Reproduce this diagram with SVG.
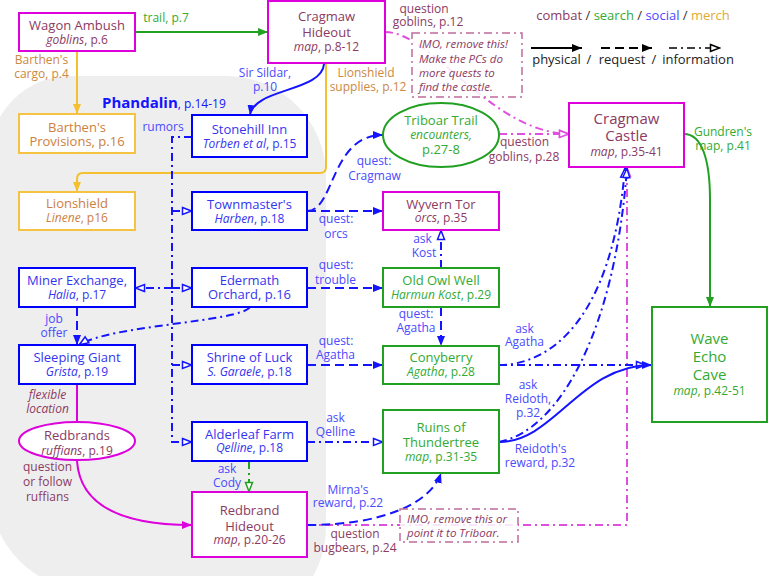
<svg xmlns="http://www.w3.org/2000/svg" width="768" height="576" viewBox="0 0 768 576">
<defs>
<style>
text{font-family:"Open Sans","Liberation Sans",sans-serif;text-anchor:middle}
.t1{font-size:13px}
.t2{font-size:12px}
.big{font-size:15px}
.l{font-size:12px}
.i{font-style:italic}
.box{fill:#fff;stroke-width:2}
.cb{stroke:#dd00dd}.ctx{fill:#8b3a62}
.se{stroke:#22a022}.stx{fill:#33aa33}
.so{stroke:#0000ff}.sotx{fill:#3535f0}
.me{stroke:#f5c242}.mtx{fill:#cc8040}
.lso{fill:#4a4aff}.lcb{fill:#8b3a62}.lse{fill:#33aa33}.lme{fill:#cc8844}
.e{fill:none;stroke-width:2}
.blue{stroke:#1414ff}.green{stroke:#22a022}.orange{stroke:#f5c030}.mag{stroke:#dd00dd}.pink{stroke:#e050e0}.blk{stroke:#000}
.d{stroke-dasharray:9 5}
.dd{stroke-dasharray:8 4 2 4}
.note{fill:#fff;fill-opacity:0.85;stroke:#c06a9a;stroke-width:1.5;stroke-dasharray:8 4 2 4}
.nt{font-size:11.5px;font-style:italic;fill:#8b3a62;text-anchor:start}
</style>
<marker id="ab" viewBox="0 0 10 8" refX="10" refY="4" markerWidth="10" markerHeight="8" markerUnits="userSpaceOnUse" orient="auto"><path d="M0,0L10,4L0,8z" fill="#1414ff"/></marker>
<marker id="ob" viewBox="-1 -1 12 10" refX="10" refY="4" markerWidth="12" markerHeight="10" markerUnits="userSpaceOnUse" orient="auto"><path d="M0.5,0.5L9.5,4L0.5,7.5z" fill="#fff" stroke="#1414ff" stroke-width="1.5"/></marker>
<marker id="ag" viewBox="0 0 10 8" refX="10" refY="4" markerWidth="10" markerHeight="8" markerUnits="userSpaceOnUse" orient="auto"><path d="M0,0L10,4L0,8z" fill="#22a022"/></marker>
<marker id="og" viewBox="-1 -1 12 10" refX="10" refY="4" markerWidth="12" markerHeight="10" markerUnits="userSpaceOnUse" orient="auto"><path d="M0.5,0.5L9.5,4L0.5,7.5z" fill="#fff" stroke="#22a022" stroke-width="1.5"/></marker>
<marker id="ao" viewBox="0 0 10 8" refX="10" refY="4" markerWidth="10" markerHeight="8" markerUnits="userSpaceOnUse" orient="auto"><path d="M0,0L10,4L0,8z" fill="#f5c030"/></marker>
<marker id="am" viewBox="0 0 10 8" refX="10" refY="4" markerWidth="10" markerHeight="8" markerUnits="userSpaceOnUse" orient="auto"><path d="M0,0L10,4L0,8z" fill="#dd00dd"/></marker>
<marker id="om" viewBox="-1 -1 12 10" refX="10" refY="4" markerWidth="12" markerHeight="10" markerUnits="userSpaceOnUse" orient="auto"><path d="M0.5,0.5L9.5,4L0.5,7.5z" fill="#fff" stroke="#e050e0" stroke-width="1.5"/></marker>
<marker id="ak" viewBox="0 0 10 8" refX="10" refY="4" markerWidth="10" markerHeight="8" markerUnits="userSpaceOnUse" orient="auto"><path d="M0,0L10,4L0,8z" fill="#000"/></marker>
<marker id="ok" viewBox="-1 -1 12 10" refX="10" refY="4" markerWidth="12" markerHeight="10" markerUnits="userSpaceOnUse" orient="auto"><path d="M0.5,0.5L9.5,4L0.5,7.5z" fill="#fff" stroke="#000" stroke-width="1.5"/></marker>
</defs>

<g id="phandalin-area">
<path d="M-10,156 A80,80 0 0 1 70,76 L226,76 A100,100 0 0 1 326,176 L326,527 A100,100 0 0 1 226,627 L90,627 L90,590 A100,100 0 0 1 -10,490 Z" fill="#eeeeee"/>
<text x="102" y="108" style="text-anchor:start;fill:#1414ff"><tspan style="font-size:15px;font-weight:bold">Phandalin</tspan><tspan style="font-size:12px">, p.14-19</tspan></text>
</g>

<g id="legend">
<text class="t1" x="633" y="20"><tspan class="lcb">combat</tspan><tspan fill="#333"> / </tspan><tspan class="lse">search</tspan><tspan fill="#333"> / </tspan><tspan class="lso">social</tspan><tspan fill="#333"> / </tspan><tspan fill="#ddaa33">merch</tspan></text>
<path class="e blk" d="M531,48 L582,48" marker-end="url(#ak)"/>
<path class="e blk d" d="M601,48 L652,48" marker-end="url(#ak)"/>
<path class="e blk dd" style="stroke-width:1.5" d="M669,48 L720,48" marker-end="url(#ok)"/>
<text class="t1" fill="#222" y="64"><tspan x="556.5">physical</tspan><tspan x="589">/</tspan><tspan x="622">request</tspan><tspan x="654">/</tspan><tspan x="698">information</tspan></text>
</g>

<g id="connectors">
<path class="e green" d="M135,32 L268,32" marker-end="url(#ag)"/>
<text class="l lse" x="166" y="22">trail, p.7</text>
<path class="e orange" d="M77,51 L77,114" marker-end="url(#ao)"/>
<text class="l lme"><tspan x="41.5" y="64">Barthen's</tspan><tspan x="41.5" y="78">cargo, p.4</tspan></text>
<path class="e orange" d="M326,63 L326,167 Q326,173 320,173 L83,173 Q77,173 77,179 L77,192" marker-end="url(#ao)"/>
<text class="l lme"><tspan x="366" y="77">Lionshield</tspan><tspan x="368" y="91">supplies, p.12</tspan></text>
<path class="e blue" d="M324,64 C322,92 254,88 250,115" marker-end="url(#ab)"/>
<text class="l lso"><tspan x="265" y="77">Sir Sildar,</tspan><tspan x="265" y="91">p.10</tspan></text>
<path class="e pink dd" d="M385,32 C432,32 490,132 569,134" marker-end="url(#om)"/>
<text class="l lcb"><tspan x="424" y="13">question</tspan><tspan x="428" y="26">goblins, p.12</tspan></text>
<path class="e pink dd" d="M499,134 L569,134" marker-end="url(#om)"/>
<text class="l lcb"><tspan x="524.5" y="146">question</tspan><tspan x="524" y="161">goblins, p.28</tspan></text>
<path class="e green" d="M684,134 C702,134 710,160 710,200 L710,307" marker-end="url(#ag)"/>
<text class="l lse"><tspan x="723" y="136">Gundren's</tspan><tspan x="723" y="150">map, p.41</tspan></text>
<path class="e blue dd" d="M192,137 L172,137 L172,442 L192,442" marker-end="url(#ob)"/>
<path class="e blue dd" d="M172,211 L192,211" marker-end="url(#ob)"/>
<path class="e blue dd" d="M172,288 L192,288" marker-end="url(#ob)"/>
<path class="e blue dd" d="M172,365 L192,365" marker-end="url(#ob)"/>
<path class="e blue dd" d="M172,288 L135,288" marker-end="url(#ob)"/>
<text class="l lso" x="163" y="131">rumors</text>
<path class="e blue d" d="M307,211 C335,211 330,135 383,135" marker-end="url(#ab)"/>
<text class="l lso"><tspan x="374" y="165">quest:</tspan><tspan x="374.5" y="180">Cragmaw</tspan></text>
<path class="e blue d" d="M307,211 L383,211" marker-end="url(#ab)"/>
<text class="l lso"><tspan x="336" y="223">quest:</tspan><tspan x="336" y="238">orcs</tspan></text>
<path class="e blue dd" d="M441,268 L441,230" marker-end="url(#ob)"/>
<text class="l lso"><tspan x="422.5" y="243">ask</tspan><tspan x="424" y="257">Kost</tspan></text>
<path class="e blue d" d="M307,288 L383,288" marker-end="url(#ab)"/>
<text class="l lso"><tspan x="336" y="269">quest:</tspan><tspan x="335.5" y="284">trouble</tspan></text>
<path class="e blue d" d="M441,307 L441,346" marker-end="url(#ab)"/>
<text class="l lso"><tspan x="416" y="318">quest:</tspan><tspan x="416" y="332">Agatha</tspan></text>
<path class="e blue d" d="M307,365 L383,365" marker-end="url(#ab)"/>
<text class="l lso"><tspan x="336" y="345">quest:</tspan><tspan x="335.5" y="359">Agatha</tspan></text>
<path class="e blue dd" d="M307,442 L383,442" marker-end="url(#ob)"/>
<text class="l lso"><tspan x="335.5" y="422">ask</tspan><tspan x="335.5" y="436">Qelline</tspan></text>
<path class="e green dd" d="M249,461 L249,492" marker-end="url(#og)"/>
<text class="l lso"><tspan x="227" y="473">ask</tspan><tspan x="227" y="487">Cody</tspan></text>
<path class="e blue dd" d="M250,307 C240,322 110,325 79,345" marker-end="url(#ob)"/>
<path class="e blue d" d="M77,307 L77,345" marker-end="url(#ab)"/>
<text class="l lso"><tspan x="54" y="323">job</tspan><tspan x="54" y="337">offer</tspan></text>
<path class="e mag" d="M77,384 L77,422"/>
<text class="l lcb i"><tspan x="47.5" y="399">flexible</tspan><tspan x="47.5" y="413">location</tspan></text>
<path class="e mag" d="M77,461 C80,505 120,525 192,525" marker-end="url(#am)"/>
<text class="l lcb"><tspan x="47.5" y="471">question</tspan><tspan x="47.5" y="486">or follow</tspan><tspan x="47.5" y="501">ruffians</tspan></text>
<path class="e pink dd" d="M307,525 L627,525 L627,167" marker-end="url(#om)"/>
<text class="l lcb"><tspan x="355" y="538">question</tspan><tspan x="355" y="552">bugbears, p.24</tspan></text>
<path class="e blue d" d="M307,525 C380,525 430,505 441,473" marker-end="url(#ab)"/>
<text class="l lso"><tspan x="348" y="494">Mirna's</tspan><tspan x="348" y="507">reward, p.22</tspan></text>
<path class="e blue dd" d="M499,365 L646,365" marker-end="url(#ob)"/>
<path class="e blue dd" d="M499,365 C550,365 612,320 625,168" marker-end="url(#ob)"/>
<text class="l lso"><tspan x="524.5" y="333">ask</tspan><tspan x="524.5" y="346">Agatha</tspan></text>
<path class="e blue dd" d="M499,442 C560,430 615,330 627,168" marker-end="url(#ob)"/>
<text class="l lso"><tspan x="528" y="389">ask</tspan><tspan x="528" y="403">Reidoth,</tspan><tspan x="528" y="417">p.32</tspan></text>
<path class="e blue" d="M499,442 C555,442 580,365 652,365" marker-end="url(#ab)"/>
<text class="l lso"><tspan x="540.5" y="453">Reidoth's</tspan><tspan x="540" y="467">reward, p.32</tspan></text>
</g>

<g id="wagon-ambush"><rect class="box cb" x="19" y="13" width="116" height="38"/><text class="ctx"><tspan class="t1" x="77" y="29.5">Wagon Ambush</tspan><tspan class="t2" x="77" y="43.5"><tspan class="i">goblins</tspan>, p.6</tspan></text></g>
<g id="cragmaw-hideout"><rect class="box cb" x="268" y="1" width="117" height="62"/><text class="ctx"><tspan class="t1" x="326.5" y="21">Cragmaw</tspan><tspan class="t1" x="326.5" y="36.5">Hideout</tspan><tspan class="t2" x="326.5" y="50.5"><tspan class="i">map</tspan>, p.8-12</tspan></text></g>
<g id="barthens"><rect class="box me" x="19" y="114" width="116" height="39"/><text class="t1 mtx"><tspan x="77" y="131.5">Barthen's</tspan><tspan x="77" y="146">Provisions, p.16</tspan></text></g>
<g id="lionshield"><rect class="box me" x="19" y="192" width="116" height="38"/><text class="mtx"><tspan class="t1" x="77" y="208">Lionshield</tspan><tspan class="t2" x="77" y="222"><tspan class="i">Linene</tspan>, p16</tspan></text></g>
<g id="stonehill-inn"><rect class="box so" x="192" y="115" width="115" height="42"/><text class="sotx"><tspan class="t1" x="249.5" y="133.5">Stonehill Inn</tspan><tspan class="t2" x="249.5" y="147.5"><tspan class="i">Torben et al</tspan>, p.15</tspan></text></g>
<g id="townmasters"><rect class="box so" x="192" y="192" width="115" height="38"/><text class="sotx"><tspan class="t1" x="249.5" y="208.5">Townmaster's</tspan><tspan class="t2" x="249.5" y="222.5"><tspan class="i">Harben</tspan>, p.18</tspan></text></g>
<g id="miner-exchange"><rect class="box so" x="19" y="268" width="116" height="39"/><text class="sotx"><tspan class="t1" x="77" y="284.5">Miner Exchange,</tspan><tspan class="t2" x="77" y="299"><tspan class="i">Halia</tspan>, p.17</tspan></text></g>
<g id="edermath-orchard"><rect class="box so" x="192" y="268" width="115" height="39"/><text class="t1 sotx"><tspan x="249.5" y="285">Edermath</tspan><tspan x="249.5" y="299">Orchard, p.16</tspan></text></g>
<g id="sleeping-giant"><rect class="box so" x="19" y="345" width="116" height="39"/><text class="sotx"><tspan class="t1" x="77" y="361.5">Sleeping Giant</tspan><tspan class="t2" x="77" y="376"><tspan class="i">Grista</tspan>, p.19</tspan></text></g>
<g id="shrine-of-luck"><rect class="box so" x="192" y="345" width="115" height="39"/><text class="sotx"><tspan class="t1" x="249.5" y="361.5">Shrine of Luck</tspan><tspan class="t2" x="249.5" y="376"><tspan class="i">S. Garaele</tspan>, p.18</tspan></text></g>
<g id="redbrands"><ellipse class="box cb" cx="77" cy="441" rx="58" ry="19"/><text class="ctx"><tspan class="t1" x="77" y="440">Redbrands</tspan><tspan class="t2" x="77" y="454.5"><tspan class="i">ruffians</tspan>, p.19</tspan></text></g>
<g id="alderleaf-farm"><rect class="box so" x="192" y="422" width="115" height="39"/><text class="sotx"><tspan class="t1" x="249.5" y="438.5">Alderleaf Farm</tspan><tspan class="t2" x="249.5" y="452"><tspan class="i">Qelline</tspan>, p.18</tspan></text></g>
<g id="redbrand-hideout"><rect class="box cb" x="192" y="492" width="115" height="65"/><text class="ctx"><tspan class="t1" x="249.5" y="514.5">Redbrand</tspan><tspan class="t1" x="249.5" y="530.5">Hideout</tspan><tspan class="t2" x="249.5" y="543.5"><tspan class="i">map</tspan>, p.20-26</tspan></text></g>
<g id="triboar-trail"><ellipse class="box se" cx="441" cy="135" rx="58" ry="32"/><text class="stx"><tspan class="t1" x="441" y="125">Triboar Trail</tspan><tspan class="t2 i" x="441" y="138.5">encounters,</tspan><tspan class="t1" x="441" y="153.5">p.27-8</tspan></text></g>
<g id="wyvern-tor"><rect class="box cb" x="383" y="192" width="116" height="38"/><text class="ctx"><tspan class="t1" x="441" y="208.5">Wyvern Tor</tspan><tspan class="t2" x="441" y="222"><tspan class="i">orcs</tspan>, p.35</tspan></text></g>
<g id="old-owl-well"><rect class="box se" x="383" y="268" width="116" height="39"/><text class="stx"><tspan class="t1" x="441" y="285">Old Owl Well</tspan><tspan class="t2" x="441" y="299"><tspan class="i">Harmun Kost</tspan>, p.29</tspan></text></g>
<g id="conyberry"><rect class="box se" x="383" y="346" width="116" height="38"/><text class="stx"><tspan class="t1" x="441" y="361.5">Conyberry</tspan><tspan class="t2" x="441" y="376"><tspan class="i">Agatha</tspan>, p.28</tspan></text></g>
<g id="ruins-of-thundertree"><rect class="box se" x="383" y="410" width="116" height="63"/><text class="stx"><tspan class="t1" x="441" y="431.5">Ruins of</tspan><tspan class="t1" x="441" y="446.5">Thundertree</tspan><tspan class="t2" x="441" y="460.5"><tspan class="i">map</tspan>, p.31-35</tspan></text></g>
<g id="cragmaw-castle"><rect class="box cb" x="569" y="103" width="115" height="64"/><text class="ctx"><tspan class="big" x="626.5" y="124">Cragmaw</tspan><tspan class="big" x="626.5" y="141">Castle</tspan><tspan class="t2" x="626.5" y="155.5"><tspan class="i">map</tspan>, p.35-41</tspan></text></g>
<g id="wave-echo-cave"><rect class="box se" x="652" y="307" width="115" height="115"/><text class="stx"><tspan class="big" x="709.5" y="344">Wave</tspan><tspan class="big" x="709.5" y="362">Echo</tspan><tspan class="big" x="709.5" y="380">Cave</tspan><tspan class="t2" x="709.5" y="395"><tspan class="i">map</tspan>, p.42-51</tspan></text></g>

<g id="note-castle"><rect class="note" x="412" y="33" width="110" height="64"/><text class="nt"><tspan x="419" y="48">IMO, remove this!</tspan><tspan x="419" y="63">Make the PCs do</tspan><tspan x="419" y="77">more quests to</tspan><tspan x="419" y="91">find the castle.</tspan></text></g>
<g id="note-bugbears"><rect class="note" x="400" y="509" width="118" height="33"/><text class="nt"><tspan x="407" y="523">IMO, remove this or</tspan><tspan x="407" y="537">point it to Triboar.</tspan></text></g>
</svg>
